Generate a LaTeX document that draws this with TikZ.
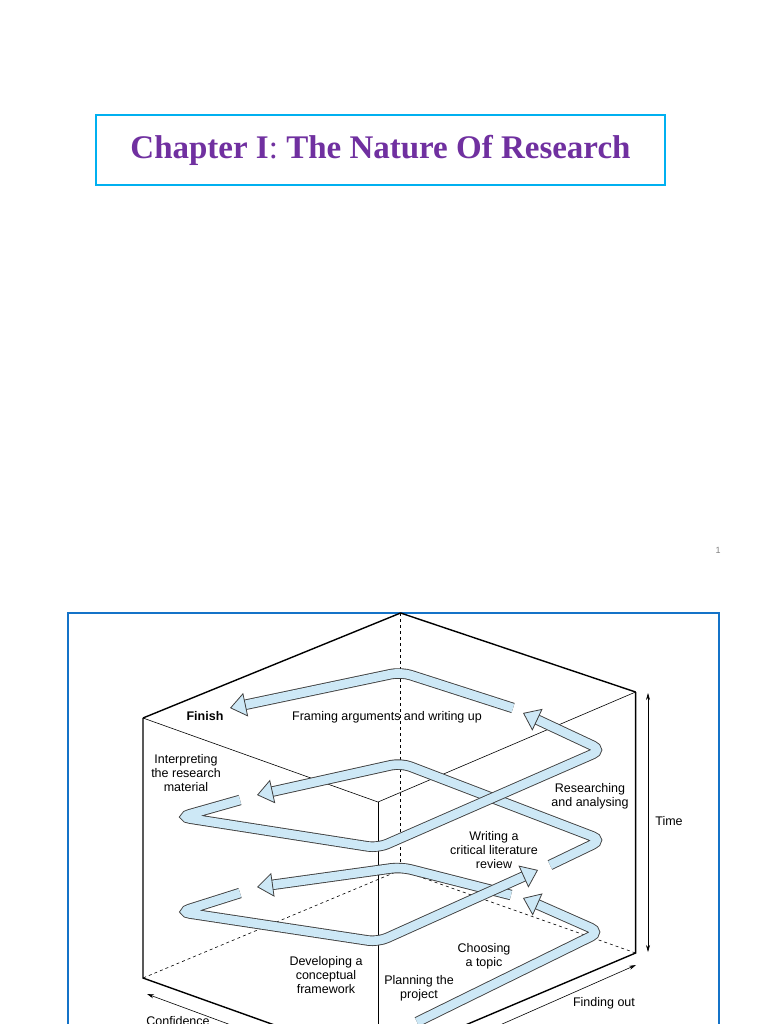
\documentclass[tikz,border=0pt]{standalone}
\usepackage{fontspec}
\setmainfont{Liberation Sans}
\newfontfamily\titlefont{Liberation Serif}
\usetikzlibrary{arrows.meta}
\definecolor{band}{RGB}{205,232,246}
\definecolor{ttl}{RGB}{112,48,160}
\definecolor{tbox}{RGB}{0,176,240}
\definecolor{frm}{RGB}{20,115,200}
\tikzset{
 lbl/.style={font=\fontsize{12.5}{14}\selectfont, align=center, inner sep=0},
 edge/.style={line width=1.4pt},
 thin/.style={line width=0.6pt},
 dsh/.style={line width=0.6pt, dashed},
 bandout/.style={line width=10.5pt, black!75, rounded corners=10pt, line cap=butt, shorten >=14pt},
 bandin/.style={line width=8.7pt, band, rounded corners=10pt, line cap=butt,
   -{Triangle[length=16pt,width=24pt,line width=0.8pt,fill=band,color=black!75]}},
}
\begin{document}
\begin{tikzpicture}[x=1pt,y=-1pt]
\useasboundingbox (0,0) rectangle (768,1024);
\clip (0,0) rectangle (768,1024);
\fill[white] (0,0) rectangle (768,1024);
% title
\node[draw=tbox, line width=1.8pt, minimum width=569pt, minimum height=70pt, inner sep=0] (title) at (380.5,150)
 {\titlefont\fontsize{33}{36}\selectfont\color{ttl}\textbf{Chapter I}: \textbf{The Nature Of Research}};
\node[font=\fontsize{9}{10}\selectfont, text=gray] (pg) at (718,550) {1};
% frame
\draw[frm, line width=1.8pt] (68,1030) -- (68,613) -- (719,613) -- (719,1030);
% cube coordinates
\coordinate (T) at (400.6,613);
\coordinate (L) at (143,718);
\coordinate (R) at (635.6,692);
\coordinate (F) at (378,802);
\coordinate (LB) at (143,978);
\coordinate (RB) at (635.6,953);
\coordinate (BB) at (400.6,870);
\coordinate (FB) at (378,1062);
\draw[dsh] (T) -- (BB); \draw[dsh] (BB) -- (LB); \draw[dsh] (BB) -- (RB);
\draw[edge] (L) -- (T) -- (R);
\draw[thin] (L) -- (F) -- (R);
\draw[thin] (F) -- (FB);
\draw[edge] (L) -- (LB) -- (FB) -- (RB) -- (R);
% spiral bands
\coordinate (a1) at (417,1022); \coordinate (a1c) at (600,932); \coordinate (a1t) at (523,898);
\coordinate (a2) at (511,895); \coordinate (a2c) at (401,867); \coordinate (a2t) at (257,887);
\coordinate (a3) at (240,893); \coordinate (a3c) at (180,912); \coordinate (a3d) at (378,942); \coordinate (a3t) at (538,870);
\coordinate (a4) at (550,865); \coordinate (a4c) at (602,840); \coordinate (a4d) at (401,763); \coordinate (a4t) at (257,795);
\coordinate (a5) at (240,800); \coordinate (a5c) at (180,817); \coordinate (a5d) at (378,848); \coordinate (a5e) at (602,750); \coordinate (a5t) at (523,713);
\coordinate (a6) at (513,708); \coordinate (a6c) at (401,672); \coordinate (a6t) at (230,708);
\draw[bandout] (a1) -- (a1c) -- (a1t); \draw[bandin] (a1) -- (a1c) -- (a1t);
\draw[bandout] (a2) -- (a2c) -- (a2t); \draw[bandin] (a2) -- (a2c) -- (a2t);
\draw[bandout] (a3) -- (a3c) -- (a3d) -- (a3t); \draw[bandin] (a3) -- (a3c) -- (a3d) -- (a3t);
\draw[bandout] (a4) -- (a4c) -- (a4d) -- (a4t); \draw[bandin] (a4) -- (a4c) -- (a4d) -- (a4t);
\draw[bandout] (a5) -- (a5c) -- (a5d) -- (a5e) -- (a5t); \draw[bandin] (a5) -- (a5c) -- (a5d) -- (a5e) -- (a5t);
\draw[bandout] (a6) -- (a6c) -- (a6t); \draw[bandin] (a6) -- (a6c) -- (a6t);
% axis arrows
\coordinate (t1) at (648,693); \coordinate (t2) at (648,952);
\draw[thin, {Stealth[length=7pt,width=4pt]}-{Stealth[length=7pt,width=4pt]}] (t1) -- (t2);
\coordinate (f1) at (500,1025); \coordinate (f2) at (636,965);
\draw[thin, -{Stealth[length=7pt,width=4pt]}] (f1) -- (f2);
\coordinate (c1) at (250,1032); \coordinate (c2) at (147,994);
\draw[thin, -{Stealth[length=7pt,width=4pt]}] (c1) -- (c2);
% labels
\node[lbl, font=\fontsize{12.5}{14}\selectfont\bfseries] (fin) at (205,716) {Finish};
\node[lbl] (frame) at (387,717) {Framing arguments and writing up};
\node[lbl] (interp) at (186,773) {Interpreting\\the research\\material};
\node[lbl] (res) at (590,796) {Researching\\and analysing};
\node[lbl] (time) at (669,821) {Time};
\node[lbl] (writ) at (494,850) {Writing a\\critical literature\\review};
\node[lbl] (choose) at (484,956) {Choosing\\a topic};
\node[lbl] (dev) at (326,975) {Developing a\\conceptual\\framework};
\node[lbl] (plan) at (419,988) {Planning the\\project};
\node[lbl] (find) at (604,1003) {Finding out};
\node[lbl, anchor=north] (conf) at (178,1016) {Confidence};
\end{tikzpicture}
\end{document}
